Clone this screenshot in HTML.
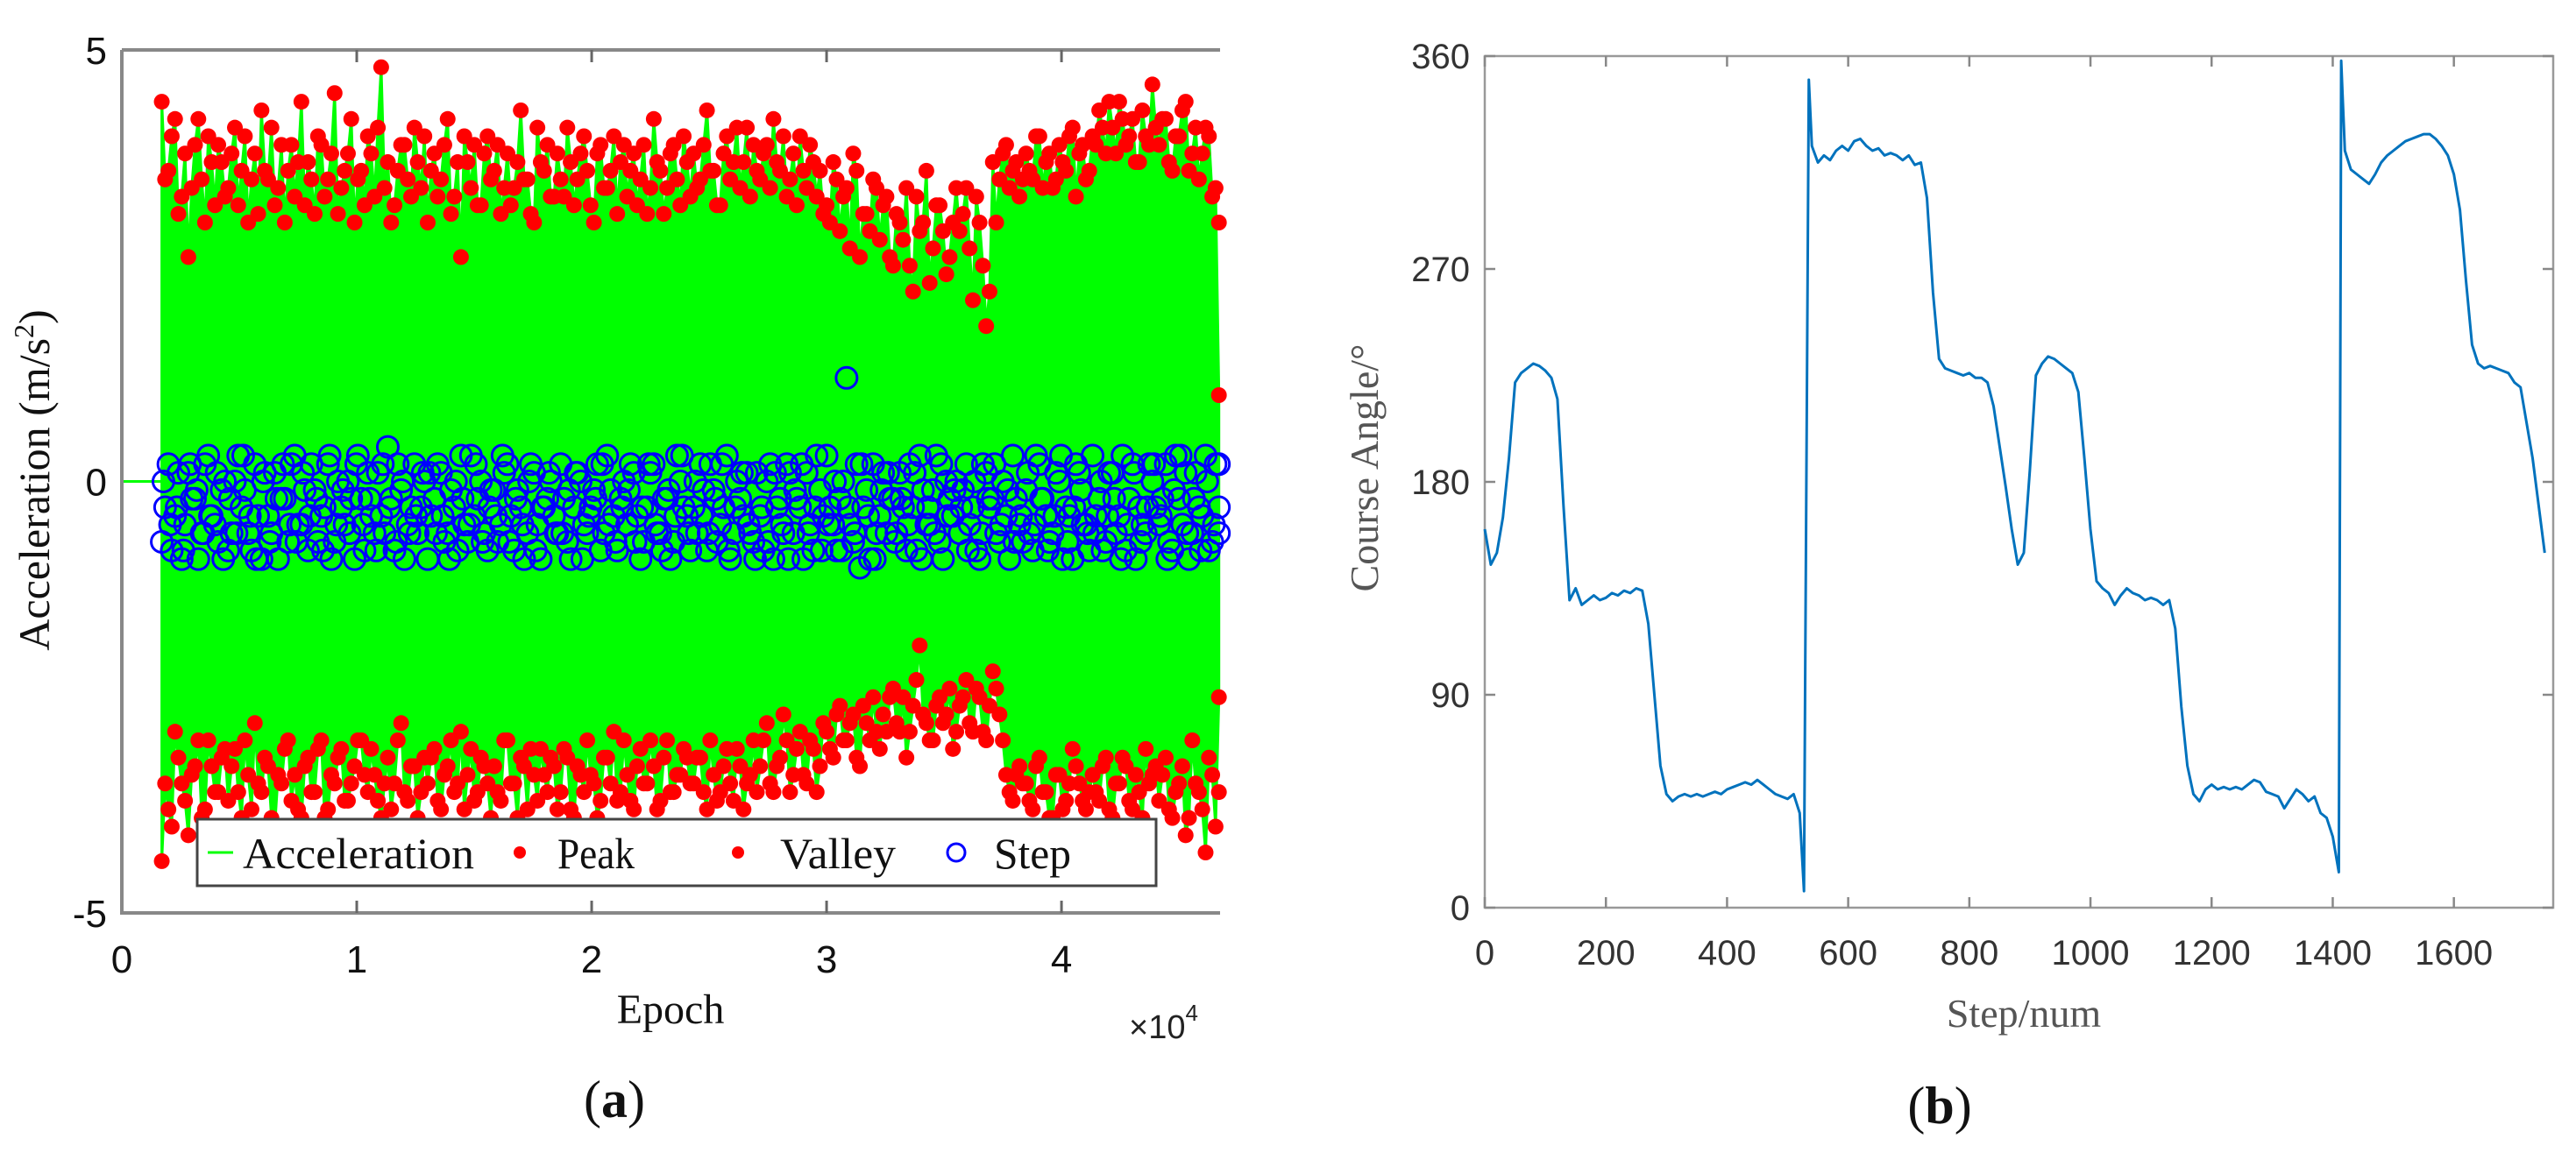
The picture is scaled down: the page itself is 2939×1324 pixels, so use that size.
<!DOCTYPE html>
<html><head><meta charset="utf-8"><style>
html,body{margin:0;padding:0;background:#fff;}
svg{display:block;}
</style></head><body>
<svg id="fig" width="2939" height="1324" viewBox="0 0 2939 1324" xmlns="http://www.w3.org/2000/svg">
<g id="chartA"></g>
<g id="chartB"></g>
</svg>
<script>
// ===== Chart (a) data =====
const aXTicks = [0, 1, 2, 3, 4];
const aYTicks = [-5, 0, 5];
const aEpochStart = 1700;
const aEpochEnd = 46700;
const peaks = [4.4,3.6,4.2,3.3,2.6,3.9,3.5,4.0,3.2,3.7,
3.4,4.1,3.6,3.0,3.8,4.3,3.5,3.2,3.9,3.6,
3.3,4.4,3.7,3.1,3.9,3.5,4.5,3.4,3.8,3.0,
3.6,4.0,3.3,4.8,3.7,3.2,3.9,3.5,4.1,3.4,
3.0,3.8,3.5,4.2,3.3,2.6,3.7,3.9,3.2,4.0,
3.6,3.1,3.8,3.4,4.3,3.5,3.0,3.7,3.9,3.3,
3.5,4.1,3.2,3.8,3.6,3.0,3.9,3.4,4.0,3.7,
3.3,3.8,3.5,3.1,4.2,3.6,3.4,3.9,3.2,3.7,
3.8,3.5,4.3,3.6,3.2,4.0,3.7,3.4,4.1,3.9,
3.5,3.9,4.2,3.6,3.3,3.8,4.0,3.4,3.7,3.6,
3.2,3.7,2.9,3.4,3.8,2.6,3.1,3.5,2.8,3.3,
2.5,3.0,3.4,2.2,2.9,3.6,2.7,3.2,2.4,3.0,
2.9,3.4,2.1,3.0,1.8,3.7,3.5,3.9,3.6,3.3,
3.8,3.5,4.0,3.7,3.4,3.9,3.6,4.1,3.8,3.5,
4.0,4.3,3.8,4.1,4.4,3.9,4.2,3.7,4.0,4.6,
3.9,4.2,3.6,4.0,4.4,3.8,3.5,4.1,3.3,1.0];
const peaksB = [3.5,4.0,3.1,3.8,3.4,4.2,3.0,3.7,3.9,3.3,
3.8,3.2,4.0,3.5,3.1,3.6,4.1,3.4,3.0,3.9,
3.7,3.2,3.5,4.0,3.3,3.8,3.1,3.6,4.2,3.5,
3.2,3.8,4.1,3.4,3.0,3.6,3.9,3.3,3.7,4.0,
3.6,3.3,3.9,3.1,3.7,4.0,3.4,3.2,3.8,3.5,
3.9,3.4,3.2,3.7,3.5,3.1,4.1,3.6,3.3,3.8,
3.3,3.7,3.5,4.0,3.2,3.8,3.4,3.6,3.1,3.9,
3.6,3.2,3.9,3.4,3.7,3.1,3.8,3.5,4.0,3.3,
3.4,3.9,3.6,3.2,3.8,3.5,4.1,3.7,3.3,3.6,
3.8,3.4,3.7,4.0,3.5,3.2,3.6,3.9,3.3,3.1,
3.0,3.5,3.3,2.7,3.6,3.1,2.9,3.4,3.2,2.6,
3.1,2.8,2.5,3.3,3.0,2.3,3.2,2.9,2.6,3.4,
3.1,2.7,3.3,2.5,2.2,3.0,3.8,3.4,3.7,3.5,
3.6,4.0,3.4,3.8,3.5,3.7,4.0,3.3,3.9,3.6,
3.9,4.1,4.4,3.8,4.2,4.0,3.7,4.3,3.9,4.1,
4.2,3.7,4.0,4.3,3.6,4.1,3.8,4.0,3.4,3.0];
const valleys = [-4.4,-3.8,-2.9,-3.5,-4.1,-3.3,-3.9,-3.0,-3.6,-3.2,
-3.7,-3.1,-3.9,-3.4,-2.8,-3.6,-3.3,-4.0,-3.5,-3.0,
-3.4,-3.9,-3.2,-3.6,-3.0,-3.8,-3.5,-3.1,-3.7,-3.3,
-3.0,-3.6,-3.4,-3.9,-3.2,-3.5,-2.8,-3.7,-3.3,-3.6,
-3.5,-3.1,-3.8,-3.3,-3.6,-2.9,-3.4,-3.7,-3.2,-3.5,
-3.3,-3.7,-3.0,-3.5,-3.2,-3.8,-3.4,-3.1,-3.6,-3.3,
-3.6,-3.2,-3.9,-3.4,-3.0,-3.5,-3.7,-3.2,-2.9,-3.6,
-3.4,-3.8,-3.1,-3.5,-3.3,-3.7,-3.0,-3.6,-3.4,-3.2,
-3.5,-3.2,-3.8,-3.4,-3.6,-3.1,-3.7,-3.3,-3.5,-3.0,
-3.3,-2.8,-3.6,-3.2,-3.0,-3.4,-2.9,-3.5,-3.1,-3.3,
-2.9,-3.2,-2.6,-3.0,-2.7,-3.3,-2.8,-2.5,-3.1,-2.9,
-2.4,-2.9,-3.2,-2.6,-1.9,-2.8,-3.0,-2.5,-2.7,-3.1,
-2.6,-2.3,-2.9,-2.5,-3.0,-2.2,-2.7,-3.4,-3.7,-3.3,
-3.5,-3.8,-3.2,-3.6,-3.9,-3.4,-3.7,-3.1,-3.5,-3.8,
-3.4,-3.7,-3.2,-3.9,-3.5,-3.3,-3.8,-3.6,-3.1,-3.4,
-3.7,-3.2,-3.9,-3.5,-4.1,-3.0,-3.6,-4.3,-3.4,-2.5];
const valleysB = [-3.5,-4.0,-3.2,-3.7,-3.4,-3.0,-3.8,-3.3,-3.6,-3.1,
-3.3,-3.6,-3.0,-3.8,-3.5,-3.2,-3.9,-3.4,-3.1,-3.7,
-3.8,-3.3,-3.6,-3.1,-3.9,-3.4,-3.2,-3.7,-3.5,-3.0,
-3.4,-3.1,-3.7,-3.5,-3.8,-3.0,-3.6,-3.3,-3.9,-3.2,
-3.2,-3.7,-3.4,-3.0,-3.5,-3.8,-3.1,-3.6,-3.3,-3.9,
-3.6,-3.0,-3.5,-3.9,-3.3,-3.1,-3.7,-3.4,-3.2,-3.8,
-3.1,-3.8,-3.3,-3.6,-3.4,-3.9,-3.2,-3.5,-3.7,-3.0,
-3.7,-3.3,-3.5,-3.0,-3.8,-3.2,-3.6,-3.4,-3.1,-3.5,
-3.2,-3.6,-3.0,-3.7,-3.3,-3.5,-3.1,-3.8,-3.4,-3.6,
-3.0,-3.5,-3.3,-2.7,-3.6,-3.1,-3.4,-3.0,-3.6,-2.8,
-3.1,-2.7,-3.0,-2.8,-3.2,-2.6,-3.0,-2.9,-2.7,-2.5,
-2.8,-2.5,-2.9,-2.3,-2.7,-3.0,-2.6,-2.8,-2.4,-2.9,
-2.5,-2.8,-2.4,-2.9,-2.6,-2.4,-3.0,-3.6,-3.4,-3.5,
-3.7,-3.3,-3.6,-3.9,-3.4,-3.8,-3.5,-3.3,-3.7,-3.6,
-3.6,-3.3,-3.8,-3.5,-3.2,-3.7,-3.4,-3.9,-3.5,-3.3,
-3.4,-3.8,-3.6,-3.3,-3.9,-3.5,-3.8,-3.2,-4.0,-3.6];
const steps = [-0.7,0.2,-0.4,-0.9,0.1,-0.2,-0.6,0.3,-0.5,-0.1,
-0.8,0.0,-0.3,-0.6,0.2,-0.9,-0.4,0.1,-0.2,-0.7,
0.3,-0.5,-0.8,-0.1,-0.4,0.2,-0.7,-0.3,0.0,-0.9,
-0.2,0.1,-0.6,-0.4,0.4,-0.8,-0.1,-0.5,0.2,-0.3,
-0.9,-0.2,0.1,-0.6,-0.3,0.3,-0.7,-0.4,0.0,-0.8,
-0.1,-0.5,0.2,-0.8,-0.3,-0.6,0.1,-0.9,-0.2,-0.4,
0.2,-0.7,-0.3,0.0,-0.6,-0.1,-0.8,0.3,-0.4,-0.2,
-0.5,0.1,-0.9,-0.3,0.2,-0.6,-0.2,-0.7,0.0,-0.4,
-0.3,0.2,-0.8,-0.1,-0.5,0.3,-0.6,-0.2,0.1,-0.7,
-0.4,0.0,-0.9,-0.2,0.2,-0.6,-0.3,0.1,-0.8,-0.1,
0.3,-0.5,-0.2,1.2,-0.7,-1.0,-0.1,0.2,-0.4,-0.6,
-0.2,0.1,-0.8,-0.3,0.3,-0.5,-0.1,-0.7,0.0,-0.4,
-0.6,0.2,-0.3,-0.9,0.1,-0.2,-0.7,-0.4,0.3,-0.5,
-0.1,-0.8,0.2,-0.4,-0.6,0.0,-0.3,-0.9,0.1,-0.5,
0.3,-0.2,-0.7,0.1,-0.4,-0.8,0.2,-0.3,-0.6,0.0,
-0.5,0.2,-0.8,-0.2,0.1,-0.6,-0.3,0.3,-0.7,0.2];
const stepsB = [-0.3,-0.8,0.1,-0.5,-0.2,-0.9,0.2,-0.4,-0.7,0.0,
-0.6,0.3,-0.1,-0.8,-0.4,0.1,-0.6,-0.9,-0.2,0.2,
-0.5,-0.1,0.2,-0.7,-0.3,-0.9,0.0,-0.5,-0.2,0.3,
-0.8,-0.4,0.1,-0.6,-0.2,0.2,-0.9,-0.3,-0.6,0.0,
-0.4,0.2,-0.7,-0.1,-0.8,-0.5,0.3,-0.2,-0.6,-0.1,
-0.7,0.1,-0.4,-0.1,-0.9,0.2,-0.5,-0.3,0.0,-0.6,
-0.2,-0.9,0.1,-0.5,-0.3,0.2,-0.6,-0.1,-0.8,0.0,
0.2,-0.4,-0.7,0.1,-0.6,-0.2,-0.9,0.3,-0.3,-0.8,
-0.6,-0.1,0.2,-0.7,-0.3,-0.9,0.0,-0.4,-0.6,0.1,
-0.8,0.2,-0.3,-0.6,0.1,-0.2,-0.9,-0.5,0.3,-0.4,
-0.3,-0.8,0.0,-0.5,0.2,-0.3,-0.9,-0.6,0.1,-0.2,
-0.6,-0.3,0.2,-0.8,-0.1,-0.5,0.3,-0.9,-0.2,0.0,
-0.1,-0.5,-0.8,0.2,-0.3,-0.6,0.0,-0.9,-0.2,-0.7,
-0.6,0.3,-0.2,-0.7,0.1,-0.9,-0.4,0.2,-0.5,-0.8,
-0.4,-0.8,0.1,-0.6,0.3,-0.2,-0.9,-0.5,0.2,-0.3,
-0.2,-0.7,0.3,-0.5,-0.9,0.1,-0.4,-0.8,0.2,-0.6];
const stepsC = [0.0,-0.5,-0.3,-0.8,0.2,-0.1,-0.6,-0.4,0.1,-0.9,
-0.2,-0.6,0.3,-0.4,-0.9,0.0,-0.7,-0.2,0.2,-0.5,
-0.7,0.1,-0.4,-0.2,-0.8,0.3,-0.5,-0.1,-0.6,0.2,
-0.5,-0.2,-0.8,0.2,-0.3,-0.7,0.0,-0.6,-0.4,0.1,
0.1,-0.6,-0.4,-0.9,0.0,-0.2,-0.5,0.2,-0.7,-0.3,
-0.4,0.3,-0.7,-0.2,-0.5,0.0,-0.8,-0.3,0.1,-0.6,
-0.6,-0.1,0.1,-0.9,-0.4,-0.2,0.2,-0.5,-0.7,-0.3,
-0.1,-0.7,-0.3,0.2,-0.5,-0.8,-0.1,-0.4,0.3,-0.6,
0.0,-0.4,-0.6,-0.2,0.2,-0.8,-0.3,0.1,-0.5,-0.9,
-0.3,-0.7,0.1,-0.5,-0.9,-0.1,0.2,-0.6,-0.3,-0.8,
-0.5,0.0,-0.8,-0.3,-0.6,0.2,-0.4,-0.9,-0.1,0.1,
-0.7,-0.2,-0.5,0.1,-0.9,-0.3,-0.6,0.2,-0.4,-0.1,
-0.3,-0.8,0.0,-0.6,-0.2,0.2,-0.5,-0.1,-0.7,-0.4,
0.1,-0.5,-0.2,-0.8,-0.4,0.3,-0.7,-0.3,-0.1,-0.6,
-0.6,0.0,-0.4,-0.2,-0.9,-0.5,0.1,-0.7,-0.3,0.2,
-0.4,-0.9,-0.1,0.3,-0.6,-0.2,-0.8,0.0,-0.5,-0.3];

// ===== Chart (b) data =====
const bXTicks = [0,200,400,600,800,1000,1200,1400,1600];
const bYTicks = [0,90,180,270,360];
const bSteps = [0,10,20,30,40,50,60,70,80,90,100,110,120,130,140,150,160,170,180,190,200,210,220,230,240,250,260,270,280,290,300,310,320,330,340,350,360,370,380,390,400,410,420,430,440,450,460,470,480,490,500,510,520,527,529,535,540,550,560,570,580,590,600,610,620,630,640,650,660,670,680,690,700,710,720,730,740,750,760,770,780,790,800,810,820,830,840,850,860,870,880,890,900,910,920,930,940,950,960,970,980,990,1000,1010,1020,1030,1040,1050,1060,1070,1080,1090,1100,1110,1120,1130,1140,1150,1160,1170,1180,1190,1200,1210,1220,1230,1240,1250,1260,1270,1280,1290,1300,1310,1320,1330,1340,1350,1360,1370,1380,1390,1400,1410,1414,1416,1420,1430,1440,1450,1460,1470,1480,1490,1500,1510,1520,1530,1540,1550,1560,1570,1580,1590,1600,1610,1620,1630,1640,1650,1660,1670,1680,1690,1700,1710,1720,1730,1740,1750,1762];
const bAngles = [160,145,150,165,190,222,226,228,230,229,227,224,215,170,130,135,128,130,132,130,131,133,132,134,133,135,134,120,90,60,48,45,47,48,47,48,47,48,49,48,50,51,52,53,52,54,52,50,48,47,46,48,40,7,100,350,322,315,318,316,320,322,320,324,325,322,320,321,318,319,318,316,318,314,315,300,260,232,228,227,226,225,226,224,224,222,212,195,178,160,145,150,185,225,230,233,232,230,228,226,218,190,160,138,135,133,128,132,135,133,132,130,131,130,128,130,118,85,60,48,45,50,52,50,51,50,51,50,52,54,53,49,48,47,42,46,50,48,45,47,40,38,30,15,358,345,320,312,310,308,306,310,315,318,320,322,324,325,326,327,327,325,322,318,310,295,265,238,230,228,229,228,227,226,222,220,205,190,170,150];

const NS = 'http://www.w3.org/2000/svg';
function mk(tag, attrs, parent, text){
  const e = document.createElementNS(NS, tag);
  for (const k in attrs) e.setAttribute(k, attrs[k]);
  if (text !== undefined) e.textContent = text;
  parent.appendChild(e);
  return e;
}

// ===== Chart (a) =====
(function(){
  const g = document.getElementById('chartA');
  const L=139, R=1392, T=57, B=1042;
  const xMax = 46750;
  const xs = v => L + (v/xMax)*(R-L);
  const ys = v => T + (5 - v)/10*(B-T);
  const n = peaks.length;
  const ep = i => Math.min(aEpochEnd, aEpochStart + i*(aEpochEnd-aEpochStart)/(n-1));

  let e = mk('line',{x1:L,y1:ys(0),x2:xs(aEpochStart),y2:ys(0),stroke:'#00ff00','stroke-width':3},g);
  
  

  // green fill between peaks and valleys (combined sequences)
  let top = [], bot = [];
  for (let i=0;i<n;i++){
    top.push([ep(i),peaks[i]]); if (i<n-1) top.push([ep(i+0.5),peaksB[i]]);
    bot.push([ep(i),valleys[i]]); if (i<n-1) bot.push([ep(i+0.5),valleysB[i]]);
  }
  let d = '';
  top.forEach((p,i)=>{ d += (i?'L':'M') + xs(p[0]).toFixed(1)+','+ys(p[1]).toFixed(1); });
  for (let i=bot.length-1;i>=0;i--) d += 'L'+xs(bot[i][0]).toFixed(1)+','+ys(bot[i][1]).toFixed(1);
  d += 'Z';
  e = mk('path',{d:d,fill:'#00ff00',stroke:'#00ff00','stroke-width':3},g);
  
  

  const dot = (arr, off, name) => arr.forEach((p,i)=>{
    const c = mk('circle',{cx:xs(ep(i+off)),cy:ys(p),r:9,fill:'#ff0000'},g);
    
    
  });
  dot(peaks,0,'peak-point'); dot(peaksB,0.5,'peak-point');
  dot(valleys,0,'valley-point'); dot(valleysB,0.5,'valley-point');

  const ring = (arr, off) => arr.forEach((p,i)=>{
    const c = mk('circle',{cx:xs(ep(i+off)),cy:ys(p),r:12,fill:'none',stroke:'#0000ff','stroke-width':3},g);
    
    
  });
  ring(steps,0); ring(stepsB,0.5); ring(stepsC,0.25);

  e = mk('path',{d:`M${L},${T}H${R}M${L},${T}V${B}H${R}`,fill:'none',stroke:'#888','stroke-width':4},g);
  
  

  aXTicks.forEach(t=>{
    const x = xs(t*10000);
    if (t>0){
      mk('line',{x1:x,y1:B,x2:x,y2:B-14,stroke:'#666','stroke-width':3},g);
      mk('line',{x1:x,y1:T,x2:x,y2:T+14,stroke:'#666','stroke-width':3},g);
    }
    const tx = mk('text',{x:x,y:1110,'text-anchor':'middle','font-family':'Liberation Sans, sans-serif','font-size':44,fill:'#111'},g,String(t));
    
    
  });
  aYTicks.forEach(t=>{
    const y = ys(t);
    const tx = mk('text',{x:122,y:y+16,'text-anchor':'end','font-family':'Liberation Sans, sans-serif','font-size':44,fill:'#111'},g,String(t));
    
    
  });

  e = mk('text',{x:765,y:1168,'text-anchor':'middle','font-family':'Liberation Serif, serif','font-size':48,fill:'#111'},g,'Epoch');
  
  
  e = mk('text',{x:1288,y:1185,'font-family':'Liberation Sans, sans-serif','font-size':38,fill:'#222'},g);
  e.innerHTML = '\u00d710<tspan dy="-20" font-size="26">4</tspan>';
  
  

  const yt = mk('text',{x:0,y:0,'text-anchor':'middle','font-family':'Liberation Serif, serif','font-size':50,fill:'#111',transform:'translate(56,548) rotate(-90)'},g);
  
  
  yt.innerHTML = 'Acceleration (m/s<tspan dy="-18" font-size="32">2</tspan><tspan dy="18">)</tspan>';

  const lg = mk('g',{},g);
  
  
  mk('rect',{x:225,y:935,width:1094,height:76,fill:'#fff',stroke:'#444','stroke-width':3},lg);
  mk('line',{x1:237,y1:973,x2:266,y2:973,stroke:'#00ff00','stroke-width':3},lg);
  const leg = [['Acceleration',277],['Peak',636],['Valley',890],['Step',1134]];
  leg.forEach(([t,x])=>{
    const tx = mk('text',{x:x,y:991,'font-family':'Liberation Serif, serif','font-size':50,fill:'#111',textLength:t.length*22,lengthAdjust:'spacingAndGlyphs'},lg,t);
    
    
  });
  mk('circle',{cx:593,cy:973,r:7,fill:'#ff0000'},lg);
  mk('circle',{cx:842,cy:973,r:7,fill:'#ff0000'},lg);
  mk('circle',{cx:1091,cy:973,r:10,fill:'none',stroke:'#0000ff','stroke-width':3},lg);

  e = mk('text',{x:701,y:1275,'text-anchor':'middle','font-family':'Liberation Serif, serif','font-size':60,fill:'#111'},g);
  e.innerHTML = '(<tspan font-weight="bold">a</tspan>)';
  
  
})();

// ===== Chart (b) =====
(function(){
  const g = document.getElementById('chartB');
  const L=1694, R=2913, T=64, B=1036;
  const xMax = 1764;
  const xs = v => L + v/xMax*(R-L);
  const ys = v => B - v/360*(B-T);

  let e = mk('rect',{x:L,y:T,width:R-L,height:B-T,fill:'none',stroke:'#999','stroke-width':2.5},g);
  
  

  bXTicks.forEach(t=>{
    const x = xs(t);
    mk('line',{x1:x,y1:B,x2:x,y2:B-12,stroke:'#888','stroke-width':2.5},g);
    mk('line',{x1:x,y1:T,x2:x,y2:T+12,stroke:'#888','stroke-width':2.5},g);
    const tx = mk('text',{x:x,y:1101,'text-anchor':'middle','font-family':'Liberation Sans, sans-serif','font-size':40,fill:'#333'},g,String(t));
    
    
  });
  bYTicks.forEach(t=>{
    const y = ys(t);
    mk('line',{x1:L,y1:y,x2:L+12,y2:y,stroke:'#888','stroke-width':2.5},g);
    mk('line',{x1:R,y1:y,x2:R-12,y2:y,stroke:'#888','stroke-width':2.5},g);
    const tx = mk('text',{x:1677,y:y+14,'text-anchor':'end','font-family':'Liberation Sans, sans-serif','font-size':40,fill:'#333'},g,String(t));
    
    
  });

  let d='';
  bSteps.forEach((s,i)=>{ d += (i?'L':'M')+xs(s).toFixed(1)+','+ys(bAngles[i]).toFixed(1); });
  e = mk('path',{d:d,fill:'none',stroke:'#0072BD','stroke-width':3,'stroke-linejoin':'round'},g);
  
  

  e = mk('text',{x:2309,y:1172,'text-anchor':'middle','font-family':'Liberation Serif, serif','font-size':46,fill:'#555'},g,'Step/num');
  
  
  e = mk('text',{x:0,y:0,'text-anchor':'middle','font-family':'Liberation Serif, serif','font-size':46,fill:'#555',transform:'translate(1572,534) rotate(-90)'},g,'Course Angle/\u00b0');
  
  
  e = mk('text',{x:2213,y:1282,'text-anchor':'middle','font-family':'Liberation Serif, serif','font-size':60,fill:'#111'},g);
  e.innerHTML = '(<tspan font-weight="bold">b</tspan>)';
  
  
})();
</script>
</body></html>
